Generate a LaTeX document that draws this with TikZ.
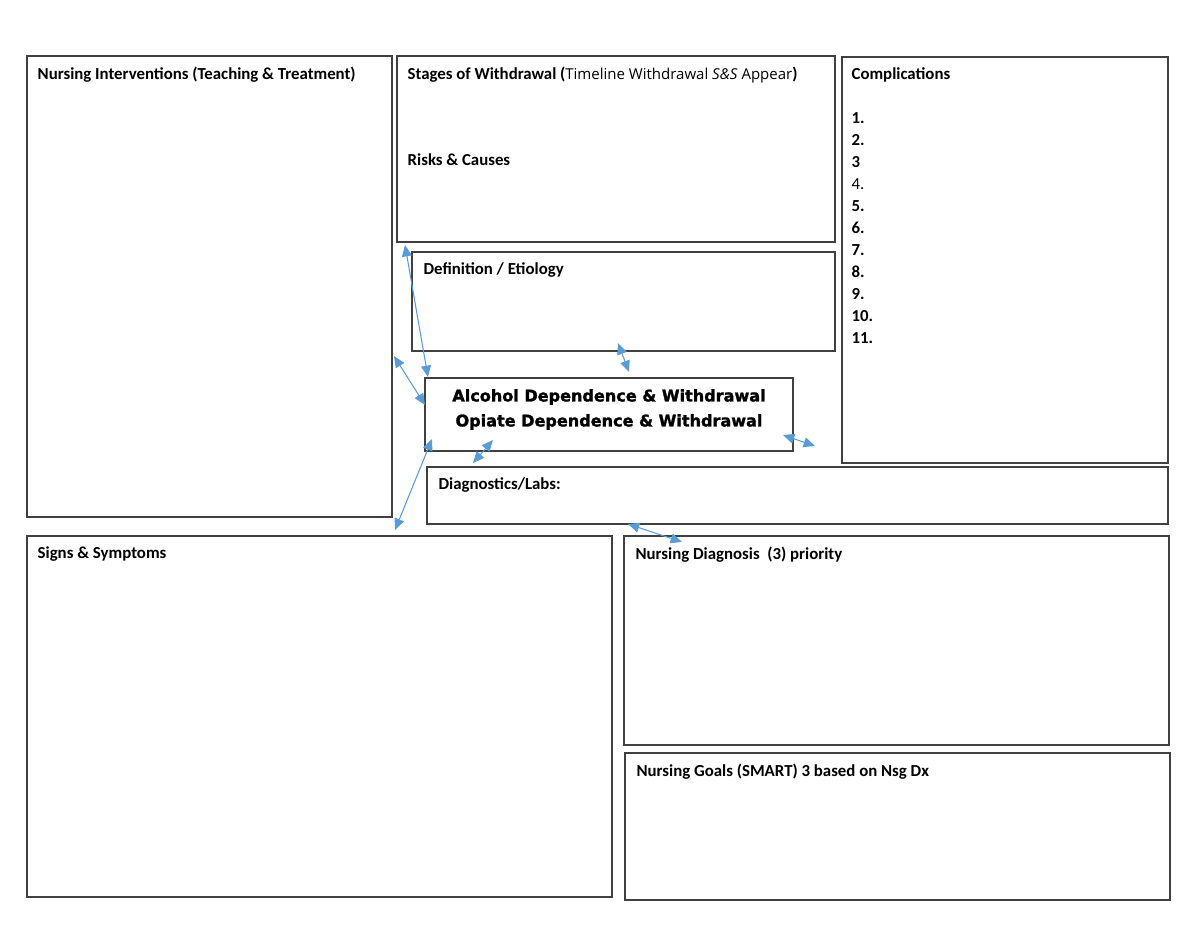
\documentclass[tikz,border=0pt]{standalone}
\usepackage{fontspec}
\setmainfont{Carlito}
\newfontfamily\heavyfont[BoldFeatures={FakeBold=1.6}]{DejaVu Sans}
\newfontfamily\widefont{Open Sans}
\usetikzlibrary{positioning, fit, arrows.meta}

\definecolor{linkblue}{HTML}{5B9BD5}
\definecolor{boxgray}{HTML}{404040}

\begin{document}
\begin{tikzpicture}[x=0.66pt, y=-0.66pt,
    box/.style={rectangle, draw=boxgray, line width=0.9pt, inner sep=0pt},
    title/.style={inner sep=0pt, anchor=north west, align=left,
        font=\bfseries\fontsize{11.1}{14.5}\selectfont},
    link/.style={linkblue, line width=0.7pt,
        {Triangle[length=7.5pt,width=6.5pt]}-{Triangle[length=7.5pt,width=6.5pt]}}]
        \useasboundingbox (0,0) rectangle (1200,927);

        % Boxes
        \node[box, fit={(27,56) (392,517)}] (interv) {};
        \node[box, fit={(397,56) (835,242)}] (stages) {};
        \node[box, fit={(412,252) (835,351)}] (defn) {};
        \node[box, fit={(842,57) (1168,463)}] (compl) {};
        \node[box, fit={(425,378) (793,451)}] (main) {};
        \node[box, fit={(427,467) (1168,524)}] (diag) {};
        \node[box, fit={(27,536) (612,897)}] (signs) {};
        \node[box, fit={(624,536) (1169,745)}] (nsgdx) {};
        \node[box, fit={(625,753) (1170,900)}] (goals) {};

        % Titles
        \node[title, below right=7.6pt and 7.3pt of interv.north west] (intervtitle) {Nursing Interventions (Teaching \& Treatment)};
        \node[title, below right=7.6pt and 7.3pt of stages.north west] (stagestitle) {Stages of Withdrawal ({\widefont\mdseries\fontsize{9.9}{11}\selectfont Timeline Withdrawal \textit{S\&S} Appear})};
        \node[title, below right=65pt and 7.3pt of stages.north west] (risks) {Risks \& Causes};
        \node[title, below right=7.6pt and 7.9pt of defn.north west] (defntitle) {Definition / Etiology};
        \node[title, below right=7.6pt and 6.6pt of compl.north west] (compltitle) {Complications\\[14.5pt]
            1.\\ 2.\\ 3\\ {\mdseries 4.}\\ 5.\\ 6.\\ 7.\\ 8.\\ 9.\\ 10.\\ 11.};
        \node[title, below right=7.6pt and 7.9pt of diag.north west] (diagtitle) {Diagnostics/Labs:};
        \node[title, below right=7.6pt and 7.3pt of signs.north west] (signstitle) {Signs \& Symptoms};
        \node[title, below right=7.6pt and 7.9pt of nsgdx.north west] (nsgdxtitle) {Nursing Diagnosis~~(3) priority};
        \node[title, below right=7.6pt and 7.9pt of goals.north west] (goalstitle) {Nursing Goals (SMART) 3 based on Nsg Dx};

        % Center topic
        \node[align=center, inner sep=0pt, font=\heavyfont\bfseries\fontsize{10.6}{16.5}\selectfont] (topic) at ([yshift=3.3pt]main.center) {Alcohol Dependence \& Withdrawal\\ Opiate Dependence \& Withdrawal};

        % Link ends
        \coordinate (stg-a) at (405,245);
        \coordinate (main-a) at (428,377);
        \coordinate (int-a) at (394,356);
        \coordinate (main-b) at (425,405);
        \coordinate (def-a) at (618,343);
        \coordinate (main-c) at (629,372);
        \coordinate (main-d) at (783,435);
        \coordinate (cmp-a) at (815,446);
        \coordinate (main-e) at (493,440);
        \coordinate (diag-a) at (473,463);
        \coordinate (main-f) at (432,439);
        \coordinate (sgn-a) at (395,530);
        \coordinate (diag-b) at (628,524);
        \coordinate (nd-a) at (682,542);

        % Links
        \draw[link] (stg-a) -- (main-a);
        \draw[link] (int-a) -- (main-b);
        \draw[link] (def-a) -- (main-c);
        \draw[link] (main-d) -- (cmp-a);
        \draw[link] (main-e) -- (diag-a);
        \draw[link] (main-f) -- (sgn-a);
        \draw[link] (diag-b) -- (nd-a);
    \end{tikzpicture}
\end{document}
